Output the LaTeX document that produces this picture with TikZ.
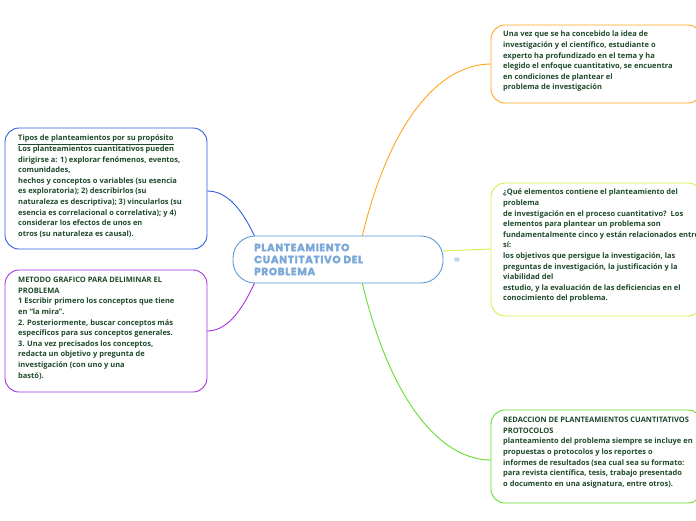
\documentclass[tikz,border=0pt]{standalone}
\usepackage{fontspec}
\setmainfont{Open Sans}
\newfontfamily\titlefont[LetterSpace=6,FakeBold=2]{Poppins}
\newfontfamily\symfont{DejaVu Sans}
\begin{document}
\begin{tikzpicture}[x=1pt,y=-1pt,
  box/.style={line width=0.9pt,rounded corners=14pt,fill=white},
  txt/.style={anchor=north west,inner sep=0pt,align=left,text=txtgreen,font=\fontsize{7.5}{10.6}\selectfont\bfseries},
  conn/.style={line width=0.9pt}]
\definecolor{txtgreen}{HTML}{1E4A2A}
\definecolor{corange}{HTML}{FFA51F}
\definecolor{cyell}{HTML}{D8EE44}
\definecolor{cgreen}{HTML}{66DD2E}
\definecolor{cblue}{HTML}{2F5FE0}
\definecolor{cpurp}{HTML}{A632E0}
\definecolor{cctr}{HTML}{5B9BD5}
\definecolor{ctitle}{HTML}{7AA8D8}
\useasboundingbox (0,0) rectangle (696,520);
\coordinate (ct) at (362,237);
\coordinate (cb) at (362,282);
\coordinate (clt) at (255,237);
\coordinate (clb) at (255,282);
\coordinate (cr) at (443,251);
\coordinate (a1) at (491,64);
\coordinate (a2) at (491,249);
\coordinate (a3) at (491,460);
\coordinate (a4) at (207,191);
\coordinate (a5) at (207,331);
\draw[conn,corange] (ct) .. controls (390,120) and (440,64) .. (a1);
\draw[conn,cyell] (cr) .. controls (465,250) .. (a2);
\draw[conn,cgreen] (cb) .. controls (390,400) and (440,460) .. (a3);
\draw[conn,cblue] (clt) .. controls (240,205) and (225,191) .. (a4);
\draw[conn,cpurp] (clb) .. controls (240,315) and (225,331) .. (a5);
% boxes
\draw[box,draw=corange] (491,25) rectangle (702,103);
\draw[box,draw=cyell] (491,183) rectangle (702,316);
\draw[box,draw=cgreen] (491,410) rectangle (702,503);
\draw[box,draw=cblue] (5,128) rectangle (207,249);
\draw[box,draw=cpurp] (5,270) rectangle (207,392);
\draw[line width=0.9pt,draw=cctr,fill=white,rounded corners=22pt] (233,236) rectangle (443,283);
\node[anchor=west,inner sep=0pt,align=left,text=ctitle,font=\titlefont\fontsize{10.5}{12}\selectfont\bfseries] (title) at (254,259.5) {PLANTEAMIENTO\\CUANTITATIVO DEL\\PROBLEMA};
\node[text=ctitle,font=\symfont\fontsize{8}{8}\selectfont] (menu) at (457,260) {≡};
\node[txt] (t1) at (503,31) {Una vez que se ha concebido la idea de\\investigación y el científico, estudiante o\\experto ha profundizado en el tema y ha\\elegido el enfoque cuantitativo, se encuentra\\en condiciones de plantear el\\problema de investigación};
\node[txt] (t2) at (503,189) {¿Qué elementos contiene el planteamiento del\\problema\\de investigación en el proceso cuantitativo?\ \ Los\\elementos para plantear un problema son\\fundamentalmente cinco y están relacionados entre\\sí:\\los objetivos que persigue la investigación, las\\preguntas de investigación, la justificación y la\\viabilidad del\\estudio, y la evaluación de las deficiencias en el\\conocimiento del problema.};
\node[txt] (t3) at (503,417) {REDACCION DE PLANTEAMIENTOS CUANTITATIVOS\\PROTOCOLOS\\planteamiento del problema siempre se incluye en\\propuestas o protocolos y los reportes o\\informes de resultados (sea cual sea su formato:\\para revista científica, tesis, trabajo presentado\\o documento en una asignatura, entre otros).};
\node[txt] (t4) at (18,135) {\underline{Tipos de planteamientos por su propósito}\\Los planteamientos cuantitativos pueden\\dirigirse a: 1) explorar fenómenos, eventos,\\comunidades,\\hechos y conceptos o variables (su esencia\\es exploratoria); 2) describirlos (su\\naturaleza es descriptiva); 3) vincularlos (su\\esencia es correlacional o correlativa); y 4)\\considerar los efectos de unos en\\otros (su naturaleza es causal).};
\node[txt] (t5) at (18,277) {METODO GRAFICO PARA DELIMINAR EL\\PROBLEMA\\1 Escribir primero los conceptos que tiene\\en “la mira”.\\2. Posteriormente, buscar conceptos más\\específicos para sus conceptos generales.\\3. Una vez precisados los conceptos,\\redacta un objetivo y pregunta de\\investigación (con uno y una\\bastó).};
\end{tikzpicture}
\end{document}
